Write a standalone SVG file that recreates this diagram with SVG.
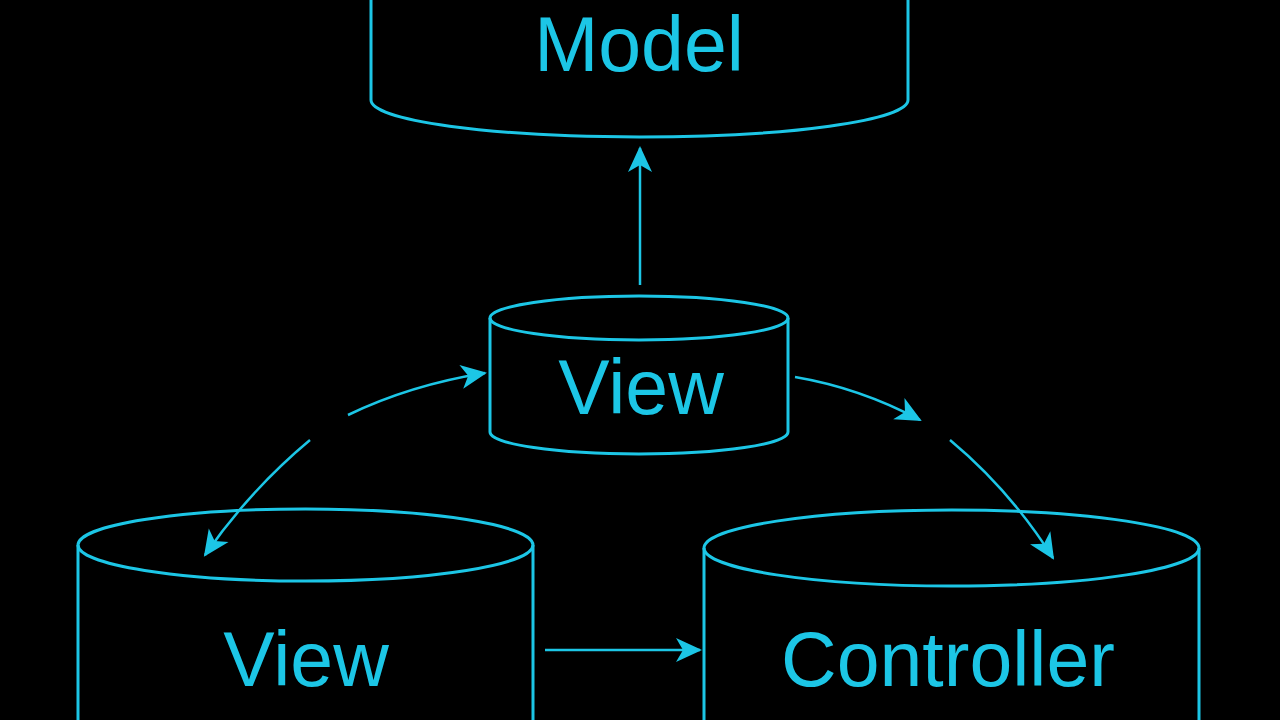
<svg xmlns="http://www.w3.org/2000/svg" width="1280" height="720" viewBox="0 0 1280 720">
<style>
.s{fill:none;stroke:#1cc6e6;stroke-width:3}
.t{fill:#1cc6e6;font-family:"Liberation Sans",Arial,sans-serif;text-anchor:middle;font-size:77px}
.c{fill:none;stroke:#1cc6e6;stroke-width:2.5}
</style>
<defs>
<marker id="a" viewBox="0 0 26 24" refX="24" refY="12" markerWidth="26" markerHeight="24" markerUnits="userSpaceOnUse" orient="auto" overflow="visible">
<path d="M0,0 L26,12 L0,24 L7,12 z" fill="#1cc6e6"/>
</marker>
</defs>
<rect width="1280" height="720" fill="#000"/>
<g id="model">
<path class="s" d="M371,-10 V100 A268.5,37 0 0 0 908,100 V-10"/>
<text class="t" x="639" y="71">Model</text>
</g>
<g id="view-mid">
<ellipse class="s" cx="639" cy="318" rx="149" ry="22"/>
<path class="s" d="M490,318 V432 A149,22 0 0 0 788,432 V318"/>
<text class="t" x="641" y="414">View</text>
</g>
<g id="view-left">
<ellipse class="s" cx="305.5" cy="545" rx="227.5" ry="36"/>
<path class="s" d="M78,545 V730 M533,545 V730"/>
<text class="t" x="306" y="686">View</text>
</g>
<g id="controller">
<ellipse class="s" cx="951.5" cy="548" rx="247.5" ry="38"/>
<path class="s" d="M704,548 V730 M1199,548 V730"/>
<text class="t" x="948" y="686">Controller</text>
</g>
<g id="connectors">
<path class="c" d="M640,285 V148" marker-end="url(#a)"/>
<path class="c" d="M348,415 Q410,385 485,373" marker-end="url(#a)"/>
<path class="c" d="M310,440 Q250,490 205,555" marker-end="url(#a)"/>
<path class="c" d="M795,377 Q860,388 920,420" marker-end="url(#a)"/>
<path class="c" d="M950,440 Q1010,490 1053,558" marker-end="url(#a)"/>
<path class="c" d="M545,650 H700" marker-end="url(#a)"/>
</g>
</svg>
